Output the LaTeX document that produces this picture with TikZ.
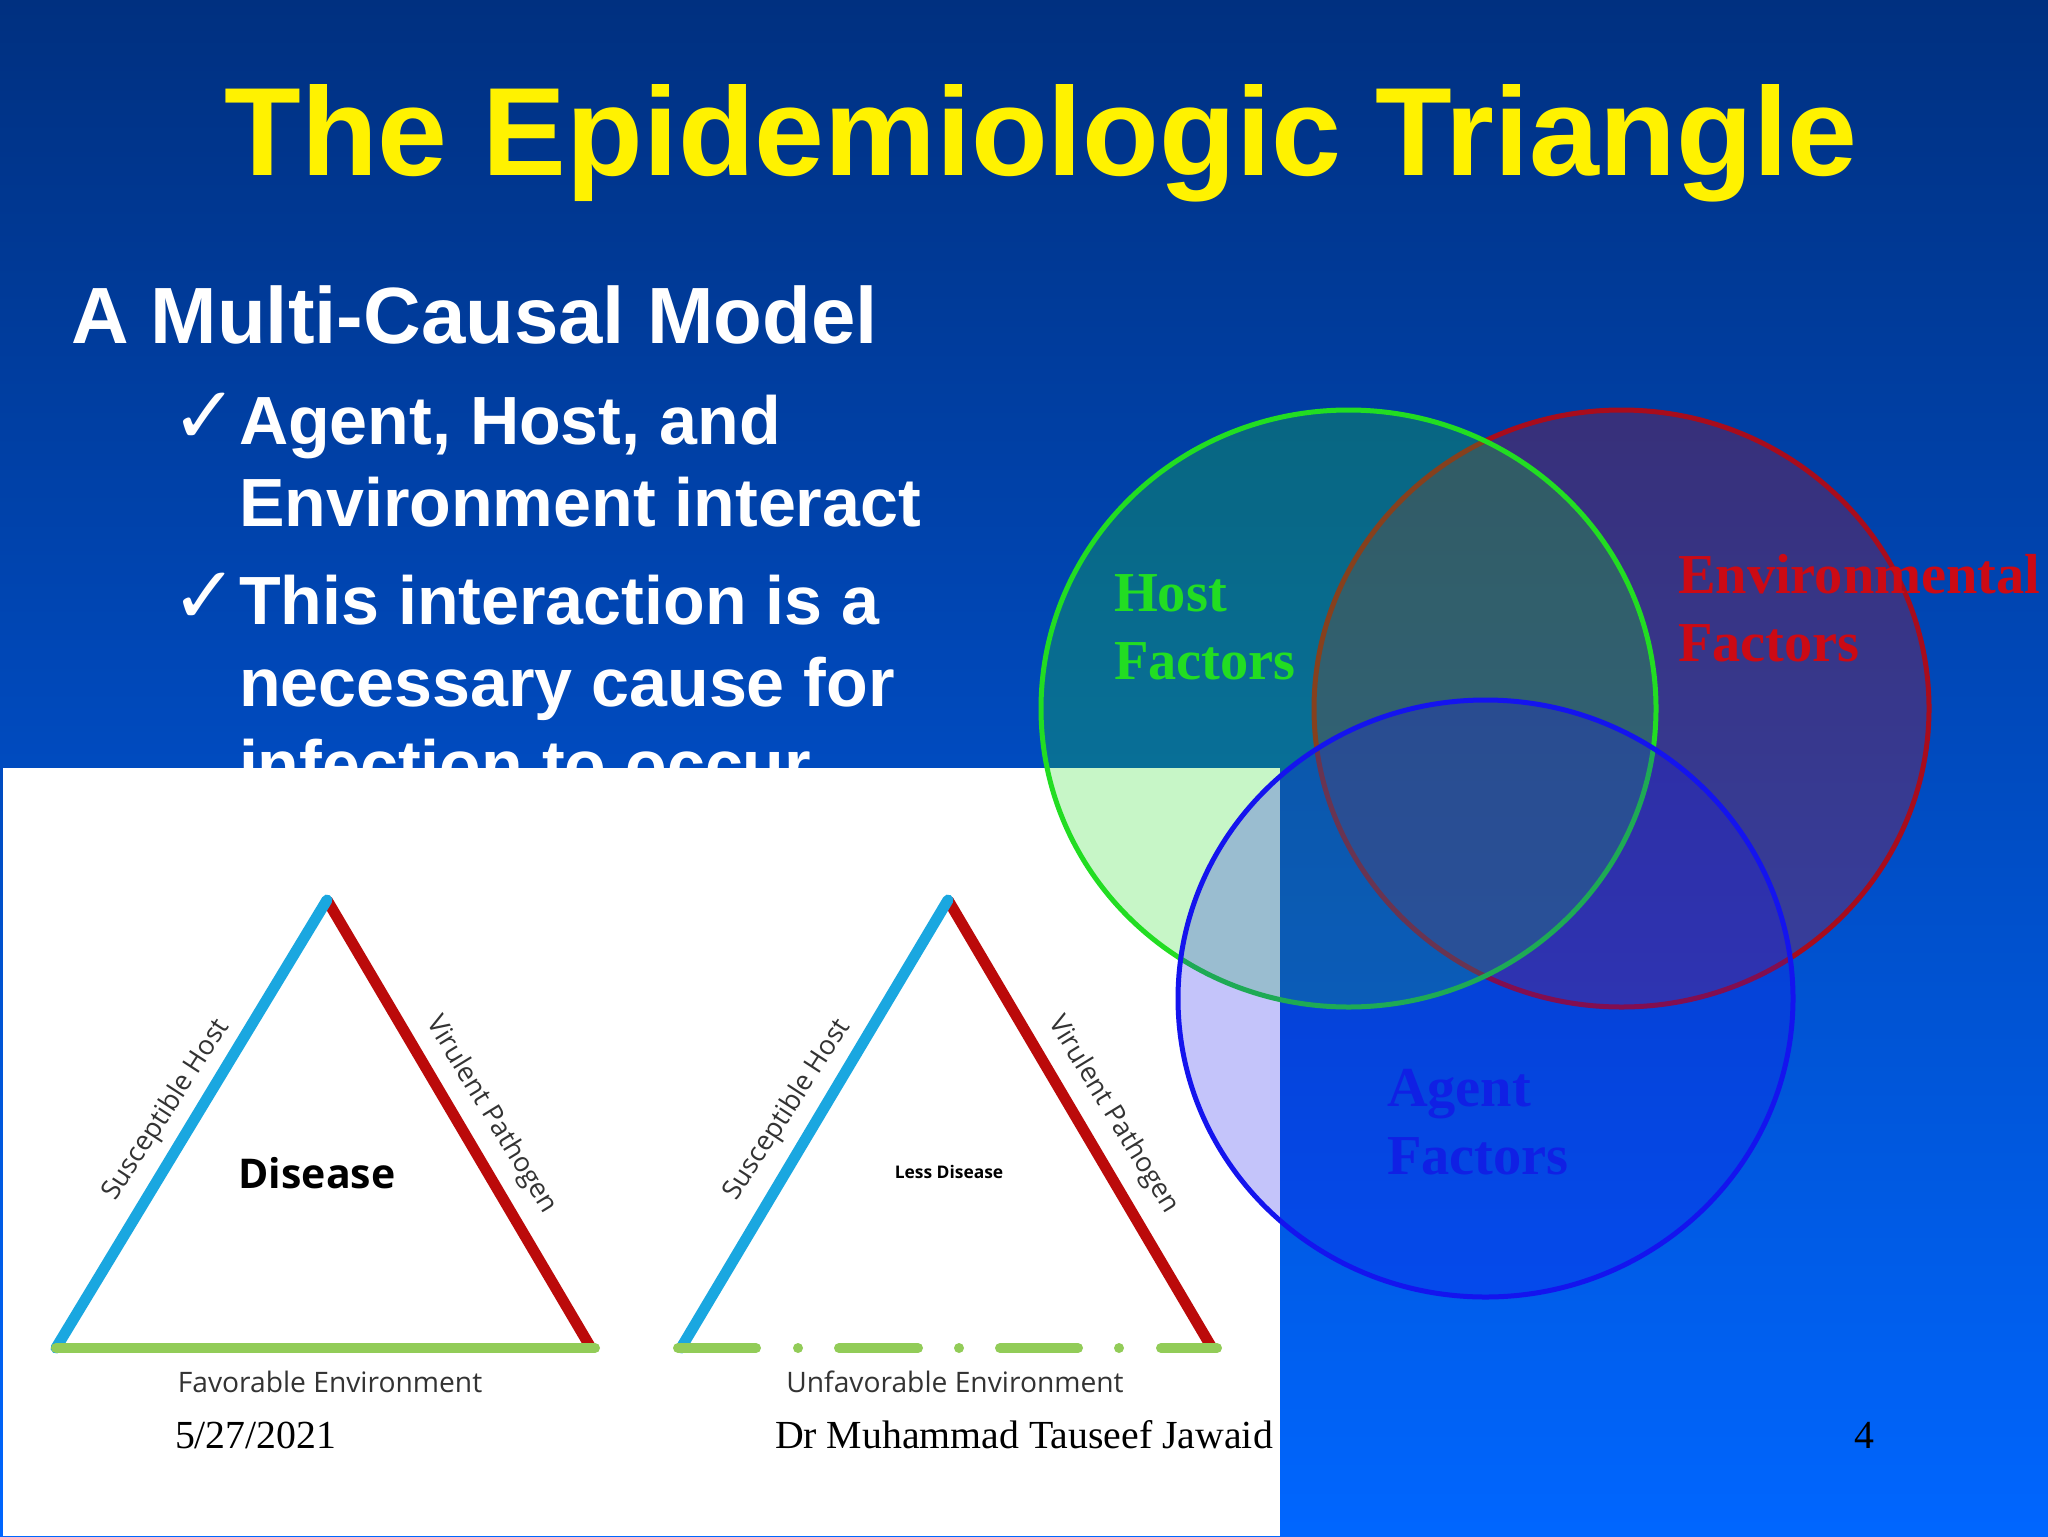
\documentclass[tikz,border=0pt]{standalone}
\usepackage{fontspec}
\setmainfont{Liberation Sans}
\newfontfamily\serifface{Liberation Serif}
\newfontfamily\openface{Open Sans}
\newfontfamily\checkface{DejaVu Sans}
\definecolor{bgtop}{HTML}{003080}
\definecolor{bgbot}{HTML}{0066FF}
\definecolor{hostg}{HTML}{22DD22}
\definecolor{envr}{HTML}{A80C1C}
\definecolor{envfill}{HTML}{CC0A10}
\definecolor{envtext}{HTML}{CC0A14}
\definecolor{agentb}{HTML}{1414EE}
\definecolor{agenttext}{HTML}{1020E4}
\definecolor{linehost}{HTML}{1AA7E0}
\definecolor{linepath}{HTML}{BB0A0A}
\definecolor{lineenv}{HTML}{92CC58}
\definecolor{labelgray}{HTML}{333333}
\tikzset{
  txt/.style={inner sep=0pt,outer sep=0pt,anchor=base west},
  titletxt/.style={txt,anchor=base,text=yellow,font=\fontsize{62.8}{70}\selectfont\bfseries},
  subtxt/.style={txt,text=white,font=\fontsize{39.9}{46}\selectfont\bfseries},
  bullettxt/.style={txt,text=white,font=\fontsize{34.1}{40}\selectfont\bfseries},
  checktxt/.style={inner sep=0pt,text=white,font=\fontsize{40}{44}\selectfont\checkface},
  venn/.style={draw=#1,fill=#1,fill opacity=0.25,line width=2.5pt},
  vennlabel/.style={txt,text=#1,font=\fontsize{28.2}{32}\selectfont\serifface\bfseries},
  foot/.style={txt,text=black,font=\fontsize{19.9}{24}\selectfont\serifface},
  trilabel/.style={inner sep=0pt,text=labelgray,font=\fontsize{14.1}{17}\selectfont\openface},
  sidelabel/.style={trilabel,font=\fontsize{13.5}{16}\selectfont\openface},
  hostedge/.style={draw=linehost,line width=5.5pt,line cap=round},
  pathedge/.style={draw=linepath,line width=5.5pt},
  envedge/.style={draw=lineenv,line width=5pt,line cap=round},
}
\begin{document}
\begin{tikzpicture}[x=0.5pt,y=-0.5pt]
\useasboundingbox (0,0) rectangle (2048,1536);
\shade[top color=bgtop,bottom color=bgbot] (0,0) rectangle (2048,1536);

\node[titletxt] (title) at (1041,175) {The Epidemiologic Triangle};
\node[subtxt] (sub) at (71,343) {A Multi-Causal Model};
\node[checktxt] (c1) at (205,418) {✓};
\node[bullettxt] (b1) at (239,444) {Agent, Host, and};
\node[bullettxt] (b2) at (239,526) {Environment interact};
\node[checktxt] (c2) at (205,598) {✓};
\node[bullettxt] (b3) at (239,624) {This interaction is a};
\node[bullettxt] (b4) at (239,706) {necessary cause for};
\node[bullettxt] (b5) at (239,788) {infection to occur};

% pasted white picture
\fill[white] (3,768) rectangle (1280,1536);

% first triangle
\coordinate (ta) at (327,900);
\coordinate (tl) at (56,1348);
\coordinate (tr) at (591,1348);
\coordinate (tl0) at (56,1348);
\coordinate (tr0) at (595,1348);
\draw[pathedge] (ta) -- (tr);
\draw[hostedge] (ta) -- (tl);
\draw[envedge] (tl0) -- (tr0);
\node[sidelabel,rotate=57] (h1) at (167,1110) {Susceptible Host};
\node[sidelabel,rotate=-58.5] (p1) at (491,1115) {Virulent Pathogen};
\node[trilabel] (e1) at (330,1382) {Favorable Environment};
\node[inner sep=0pt,text=black,font=\fontsize{20.5}{24}\selectfont\openface\bfseries] (d1) at (317,1173) {Disease};

% second triangle
\coordinate (ua) at (948,900);
\coordinate (ul) at (681,1348);
\coordinate (ur) at (1212,1348);
\draw[pathedge] (ua) -- (ur);
\draw[hostedge] (ua) -- (ul);
\coordinate (g1a) at (678,1348); \coordinate (g1b) at (756,1348);
\coordinate (g2) at (798,1348);
\coordinate (g3a) at (839,1348); \coordinate (g3b) at (918,1348);
\coordinate (g4) at (959,1348);
\coordinate (g5a) at (1000,1348); \coordinate (g5b) at (1078,1348);
\coordinate (g6) at (1119,1348);
\coordinate (g7a) at (1161,1348); \coordinate (g7b) at (1217,1348);
\draw[envedge] (g1a) -- (g1b);
\draw[envedge] (g3a) -- (g3b);
\draw[envedge] (g5a) -- (g5b);
\draw[envedge] (g7a) -- (g7b);
\fill[lineenv] (g2) circle (5) (g4) circle (5) (g6) circle (5);
\node[sidelabel,rotate=57] (h2) at (788,1110) {Susceptible Host};
\node[sidelabel,rotate=-58.5] (p2) at (1113,1115) {Virulent Pathogen};
\node[trilabel] (e2) at (955,1382) {Unfavorable Environment};
\node[inner sep=0pt,text=black,font=\fontsize{8.7}{10}\selectfont\openface\bfseries] (d2) at (949,1172) {Less Disease};

% Venn
\draw[draw=envr,fill=envfill,fill opacity=0.27,line width=2.5pt] (1621.5,708.5) ellipse [x radius=307.5,y radius=298.5];
\draw[venn=hostg] (1348.5,708.5) ellipse [x radius=307.5,y radius=298.5];
\draw[venn=agentb] (1485.5,998.5) ellipse [x radius=307.5,y radius=298.5];
\node[vennlabel=hostg] (v1) at (1114,611) {Host};
\node[vennlabel=hostg] (v2) at (1114,679) {Factors};
\node[vennlabel=envtext] (v3) at (1678,593) {Environmental};
\node[vennlabel=envtext] (v4) at (1678,661) {Factors};
\node[vennlabel=agenttext] (v5) at (1387,1106) {Agent};
\node[vennlabel=agenttext] (v6) at (1387,1174) {Factors};

% footer
\node[foot] (f1) at (175,1448) {5/27/2021};
\node[foot] (f2) at (775,1448) {Dr Muhammad Tauseef Jawaid};
\node[foot] (f3) at (1854,1448) {4};
\end{tikzpicture}
\end{document}
